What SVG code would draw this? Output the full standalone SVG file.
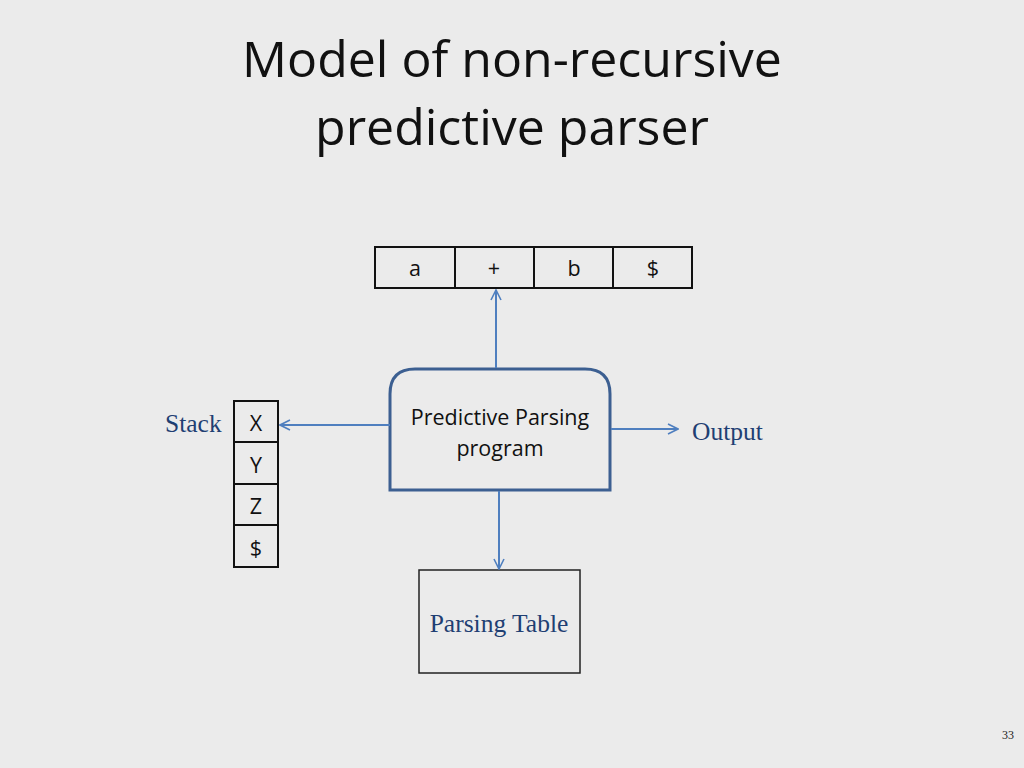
<svg xmlns="http://www.w3.org/2000/svg" width="1024" height="768" viewBox="0 0 1024 768">
<defs>
<style>
.cell{fill:none;stroke:#111;stroke-width:2}
.ctext{font-family:"Open Sans","Liberation Sans",sans-serif;font-size:21.5px;fill:#111;text-anchor:middle}
.ser{font-family:"Liberation Serif",serif;font-size:25.5px;fill:#1f3f73}
.con{fill:none;stroke:#4f7fbf;stroke-width:2}
.title{font-family:"Open Sans","Liberation Sans",sans-serif;font-size:50px;fill:#111;text-anchor:middle}
</style>
<marker id="ah" viewBox="0 0 12 12" refX="11" refY="6" markerWidth="12" markerHeight="12" markerUnits="userSpaceOnUse" orient="auto">
<path d="M1,1 L11,6 L1,11" fill="none" stroke="#4f7fbf" stroke-width="1.6"/>
</marker>
</defs>
<rect width="1024" height="768" fill="#ebebeb"/>
<g id="title">
<text class="title" x="512" y="77">Model of non-recursive</text>
<text class="title" x="512" y="145">predictive parser</text>
</g>
<g id="input">
<rect class="cell" x="375" y="247" width="317" height="41"/>
<line class="cell" x1="455" y1="247" x2="455" y2="288"/>
<line class="cell" x1="534" y1="247" x2="534" y2="288"/>
<line class="cell" x1="613" y1="247" x2="613" y2="288"/>
<text class="ctext" x="415" y="276">a</text>
<text class="ctext" x="494" y="276">+</text>
<text class="ctext" x="574" y="276">b</text>
<text class="ctext" x="653" y="276">$</text>
</g>
<g id="stack">
<rect class="cell" x="234" y="401" width="44" height="166"/>
<line class="cell" x1="234" y1="442" x2="278" y2="442"/>
<line class="cell" x1="234" y1="484" x2="278" y2="484"/>
<line class="cell" x1="234" y1="525" x2="278" y2="525"/>
<text class="ctext" x="256" y="431">X</text>
<text class="ctext" x="256" y="473">Y</text>
<text class="ctext" x="256" y="514">Z</text>
<text class="ctext" x="256" y="556">$</text>
<text class="ser" x="165" y="432">Stack</text>
</g>
<g id="program">
<path d="M390,490 L390,394 Q390,369 415,369 L585,369 Q610,369 610,394 L610,490 Z" fill="none" stroke="#3c5f91" stroke-width="3"/>
<text class="ctext" x="500" y="425">Predictive Parsing</text>
<text class="ctext" x="500" y="456">program</text>
</g>
<g id="output">
<text class="ser" x="692" y="440">Output</text>
</g>
<g id="table">
<rect x="419" y="570" width="161" height="103" fill="none" stroke="#222" stroke-width="1.5"/>
<text class="ser" x="499" y="632" text-anchor="middle">Parsing Table</text>
</g>
<g id="connectors">
<line class="con" x1="496" y1="368" x2="496" y2="290" marker-end="url(#ah)"/>
<line class="con" x1="390" y1="425" x2="280" y2="425" marker-end="url(#ah)"/>
<line class="con" x1="611" y1="429" x2="678" y2="429" marker-end="url(#ah)"/>
<line class="con" x1="499" y1="491" x2="499" y2="569" marker-end="url(#ah)"/>
</g>
<text x="1014" y="739" font-family="Liberation Serif,serif" font-size="12" fill="#222" text-anchor="end">33</text>
</svg>
